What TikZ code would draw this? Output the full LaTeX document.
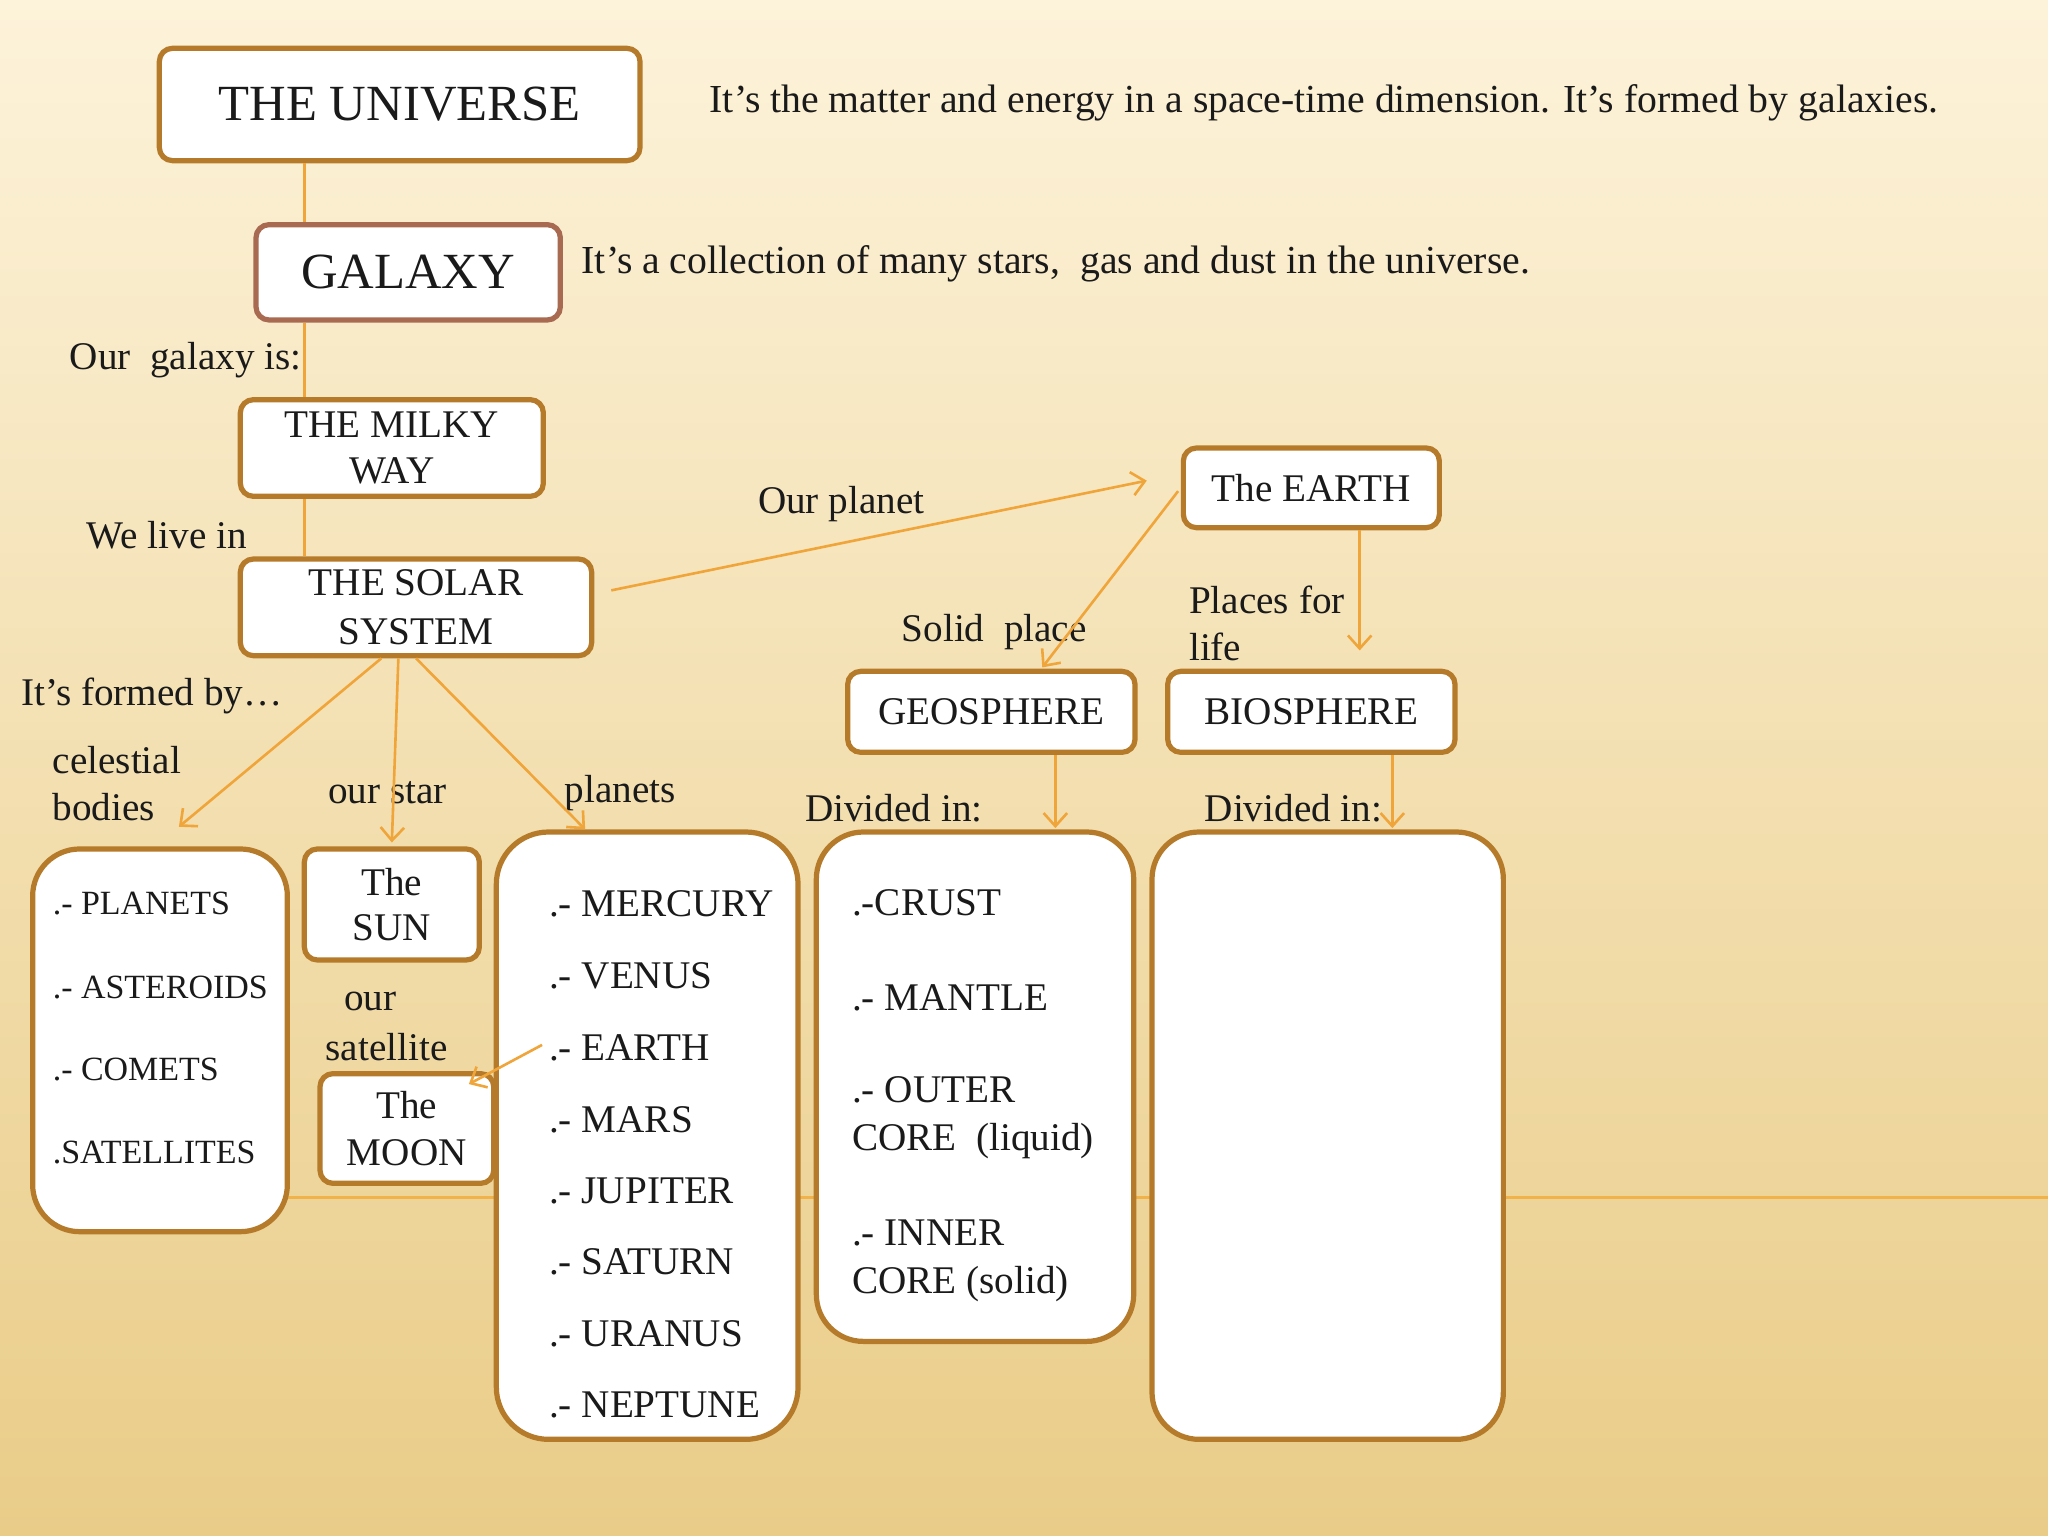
\documentclass[tikz,border=0pt]{standalone}
\usepackage{fontspec}
\setmainfont{Liberation Serif}
\usetikzlibrary{arrows.meta,calc}
\definecolor{boxc}{HTML}{B57B2A}
\definecolor{galc}{HTML}{A86B52}
\definecolor{linec}{HTML}{F0A53A}
\definecolor{decoc}{HTML}{F2B24A}
\definecolor{bgtop}{HTML}{FDF3DA}
\definecolor{bgmid}{HTML}{F6E2AA}
\definecolor{bgbot}{HTML}{E9CC88}
\definecolor{txt}{HTML}{1A1A1A}
\newcommand\fsz[2]{\fontsize{#1}{#2}\selectfont}
\begin{document}
\begin{tikzpicture}[x=0.5pt,y=-0.5pt,
  box/.style={draw=boxc,line width=2pt,fill=white,rounded corners=5pt,inner sep=0pt,align=center,text=txt},
  bigbox/.style={box,rounded corners=18pt},
  lbl/.style={inner sep=0pt,anchor=west,yshift=-1.5pt,font=\fsz{15}{18},text=txt},
  sitem/.style={inner sep=0pt,anchor=west,yshift=-1pt,font=\fsz{13}{16},text=txt},
  conn/.style={draw=linec,line width=1pt},
  arr/.style={conn,-{Straight Barb[length=5pt,width=9pt]}},
]
% background
\shade[top color=bgtop,middle color=bgmid,bottom color=bgbot] (0,0) rectangle (1568,1176);
\useasboundingbox (0,0) rectangle (1568,1176);
\draw[decoc,line width=1pt] (120,917) -- (1568,917);

% boxes
\node[box,font=\fsz{19.4}{23},minimum width=184pt,minimum height=43pt] (univ) at (306,80) {THE UNIVERSE};
\node[box,draw=galc,font=\fsz{19.4}{23},minimum width=116.5pt,minimum height=36.5pt] (galaxy) at (312.5,208.5) {GALAXY};
\node[box,font=\fsz{15}{17.5},minimum width=116pt,minimum height=37pt] (milky) at (300,343) {THE MILKY\\WAY};
\node[box,font=\fsz{15}{18.5},minimum width=134.5pt,minimum height=37pt] (solar) at (318.5,465) {THE SOLAR\\SYSTEM};
\node[bigbox,minimum width=97.5pt,minimum height=146.5pt] (celest) at (122.5,796.5) {};
\node[box,font=\fsz{15}{17.5},minimum width=67pt,minimum height=42.5pt] (sun) at (300,692.5) {The\\SUN};
\node[box,font=\fsz{15}{18},minimum width=66.5pt,minimum height=42pt] (moon) at (311.5,864) {The\\MOON};
\node[bigbox,rounded corners=20pt,minimum width=115.5pt,minimum height=232.5pt] (planets) at (495.5,869.5) {};
\node[box,font=\fsz{15}{18},minimum width=98pt,minimum height=30.5pt] (earth) at (1004,373.5) {The EARTH};
\node[box,font=\fsz{15}{18},minimum width=110pt,minimum height=31pt] (geo) at (759,545) {GEOSPHERE};
\node[box,font=\fsz{15}{18},minimum width=110pt,minimum height=31pt] (bio) at (1004,545) {BIOSPHERE};
\node[bigbox,minimum width=121.5pt,minimum height=195pt] (geolist) at (746.5,832) {};
\node[bigbox,minimum width=134.5pt,minimum height=232.5pt] (biolist) at (1016.5,869.5) {};

% descriptions and labels
\node[lbl,font=\fsz{15.2}{18}] (desc1) at (543,76) {It’s the matter and energy in a space-time dimension. It’s formed by galaxies.};
\node[lbl,font=\fsz{15.2}{18}] (desc2) at (445,199) {It’s a collection of many stars,\ \ gas and dust in the universe.};
\node[lbl] (lgal) at (53,273) {Our\ \ galaxy is:};
\node[lbl] (llive) at (66,407) {We live in};
\node[lbl] (lform) at (16,530) {It’s formed by…};
\node[lbl,align=left] (lcel) at (40,597) {celestial\\bodies};
\node[lbl] (lstar) at (251,604) {our star};
\node[lbl] (lplan) at (432,604) {planets};
\node[lbl] (lsat1) at (263,764) {our};
\node[lbl] (lsat2) at (249,799) {satellite};
\node[lbl] (lour) at (580,383) {Our planet};
\node[lbl] (lsolid) at (690,481) {Solid\ \ place};
\node[lbl,align=left] (lplaces) at (910,474) {Places for\\life};
\node[lbl] (ldiv1) at (616,616) {Divided in:};
\node[lbl] (ldiv2) at (922,616) {Divided in:};

% celestial items
\node[sitem] (c1) at (40,690) {.- PLANETS};
\node[sitem] (c2) at (40,754) {.- ASTEROIDS};
\node[sitem] (c3) at (40,817) {.- COMETS};
\node[sitem] (c4) at (40,880) {.SATELLITES};

% planet items
\node[lbl] (p1) at (420,689) {.- MERCURY};
\node[lbl] (p2) at (420,744) {.- VENUS};
\node[lbl] (pearth) at (420,799) {.- EARTH};
\node[lbl] (p4) at (420,854) {.- MARS};
\node[lbl] (p5) at (420,909) {.- JUPITER};
\node[lbl] (p6) at (420,963) {.- SATURN};
\node[lbl] (p7) at (420,1018) {.- URANUS};
\node[lbl] (p8) at (420,1073) {.- NEPTUNE};

% geosphere items
\node[lbl] (g1) at (652,688) {.-CRUST};
\node[lbl] (g2) at (652,761) {.- MANTLE};
\node[lbl,align=left,font=\fsz{15}{18.5}] (g3) at (652,852.5) {.- OUTER\\CORE\ \ (liquid)};
\node[lbl,align=left,font=\fsz{15}{18.5}] (g4) at (652,962.5) {.- INNER\\CORE (solid)};

% connectors
\coordinate (spine) at (233,0);
\draw[conn] (univ.south -| spine) -- (galaxy.north -| spine);
\draw[conn] (galaxy.south -| spine) -- (milky.north -| spine);
\draw[conn] (milky.south -| spine) -- (solar.north -| spine);
\draw[arr] ($(solar.east)+(13,-13)$) -- ($(earth.west)+(-26,-5.5)$);
\draw[arr] ($(earth.west)+(-2,2.5)$) -- ($(geo.north)+(39,-1)$);
\draw[arr] ($(earth.south)+(37,0)$) -- ($(bio.north)+(37,-14)$);
\draw[arr] ($(solar.south)+(-26.5,0)$) -- ($(celest.north)+(14.5,-15)$);
\draw[arr] ($(solar.south)+(-13.5,0)$) -- ($(sun.north)+(0,-3)$);
\draw[arr] (solar.south) -- ($(planets.north west)+(70,0)$);
\draw[arr] ($(pearth.west)+(-5,-2)$) -- ($(moon.north east)+(-21,10)$);
\draw[arr] ($(geo.south)+(49,0)$) -- ($(geolist.north)+(61.5,-1)$);
\draw[arr] ($(bio.south)+(62,0)$) -- ($(biolist.north)+(49.5,-1)$);
\end{tikzpicture}
\end{document}
